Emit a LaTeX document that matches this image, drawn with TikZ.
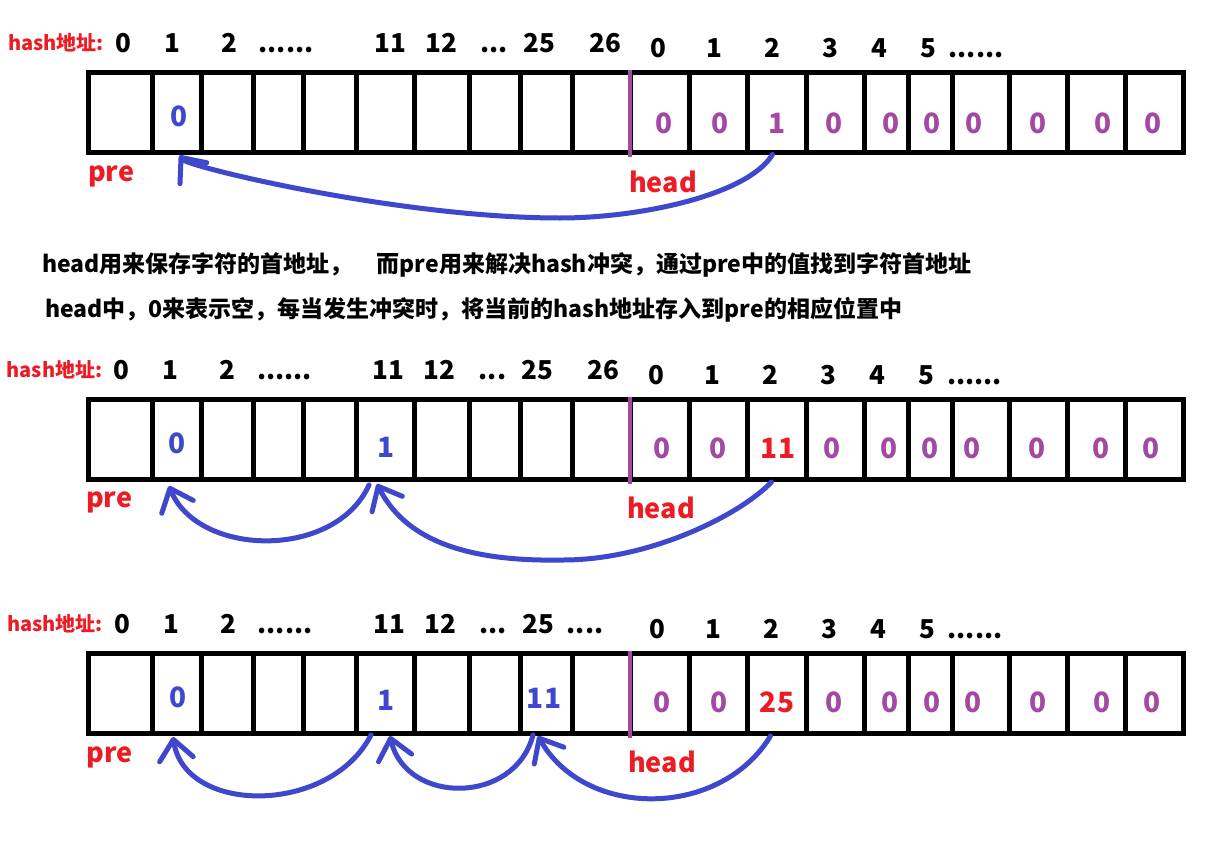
\documentclass[tikz,border=0pt]{standalone}
\usepackage{fontspec}
\setmainfont{Noto Sans CJK SC}
\usetikzlibrary{arrows.meta,calc}
\definecolor{pred}{HTML}{ED1C24}
\definecolor{pblue}{HTML}{3F48CC}
\definecolor{ppurple}{HTML}{A349A4}
\newcommand\dsix{......}
\newcommand\dthree{...}
\newcommand\dfour{....}
\tikzset{
 cell/.style={draw=black,line width=5pt,minimum height=80pt,inner sep=0pt,outer sep=0pt,anchor=north west},
 sepline/.style={draw=ppurple,line width=4pt},
 idx/.style={font=\fontsize{26}{28}\selectfont\bfseries,anchor=base,inner sep=0pt},
 hashlab/.style={font=\fontsize{20}{24}\selectfont\bfseries,text=pred,anchor=base west,inner sep=0pt},
 val/.style={font=\fontsize{28}{30}\selectfont\bfseries,anchor=base,inner sep=0pt},
 pv/.style={val,text=ppurple},
 bv/.style={val,text=pblue},
 rv/.style={val,text=pred},
 tag/.style={font=\fontsize{27}{30}\selectfont\bfseries,text=pred,anchor=base west,inner sep=0pt},
 note/.style={font=\fontsize{23}{26}\selectfont\bfseries,anchor=base west,inner sep=0pt},
 link/.style={draw=pblue,line width=5pt,line cap=round,-{Straight Barb[length=20pt,width=34pt,round]}},
}
\begin{document}
\begin{tikzpicture}[x=1pt,y=-1pt]
\useasboundingbox[fill=white] (0,0) rectangle (1214,840);
% cells
\foreach \rw/\tp in {1/72.5,2/399,3/653}{
  \foreach \xa/\xb [count=\ci from 0] in {88/152,152/201,201/253,253/303,303/356,356/414,414/469,469/520,520/572,572/630,630/689,689/747,747/806,806/864,864/908,908/952,952/1009,1009/1067,1067/1125,1125/1183}{
    \node[cell,minimum width={(\xb-\xa)*1pt}] (r\rw c\ci) at (\xa,\tp) {};
  }
  \draw[sepline] ($(r\rw c10.north west)+(0,-2.5)$) -- ($(r\rw c10.south west)+(0,4.5)$);
}
% index labels
\foreach \dy/\dx/\rw in {0/0/1,326/-1.5/2,580/-1/3}{
  \node[hashlab] (h\rw) at (8+\dx,51+\dy) {hash地址:};
  \foreach \x/\s [count=\k] in {123/0,172/1,229/2,286/\dsix,390/11,441/12,494/\dthree,539/25}
    \node[idx] (la\rw-\k) at (\x+\dx,53+\dy) {\s};
  \foreach \x/\s [count=\k] in {658/0,714/1,772/2,830/3,879/4,928/5,976/\dsix}
    \node[idx] (lb\rw-\k) at (\x+\dx,58+\dy) {\s};
}
\node[idx] (la1-9) at (605,53) {26};
\node[idx] (la2-9) at (603.5,379) {26};
\node[idx] (la3-9) at (585,633) {\dfour};
% values row 1
\node[bv] (v1a) at (179,127) {0};
\foreach \x/\s/\st [count=\k] in {664/0/pv,720/0/pv,777/1/pv,834/0/pv,891/0/pv,932/0/pv,974/0/pv,1038/0/pv,1103/0/pv,1153/0/pv}
  \node[\st] (hv1-\k) at (\x,133) {\s};
% values row 2
\node[bv] (v2a) at (177,453) {0};
\node[bv] (v2b) at (386,457) {1};
\foreach \x/\s/\st [count=\k] in {662/0/pv,718/0/pv,778/11/rv,832/0/pv,889/0/pv,930/0/pv,972/0/pv,1037/0/pv,1101/0/pv,1151/0/pv}
  \node[\st] (hv2-\k) at (\x,458) {\s};
% values row 3
\node[bv] (v3a) at (178,707) {0};
\node[bv] (v3b) at (386,710) {1};
\node[bv] (v3c) at (544,708) {11};
\foreach \x/\s/\st [count=\k] in {662/0/pv,719/0/pv,777/25/rv,834/0/pv,890/0/pv,932/0/pv,973/0/pv,1038/0/pv,1102/0/pv,1152/0/pv}
  \node[\st] (hv3-\k) at (\x,712) {\s};
% tags
\node[tag] (pre1) at (88,181) {pre};
\node[tag] (head1) at (629,192) {head};
\node[tag] (pre2) at (86,507) {pre};
\node[tag] (head2) at (627,518) {head};
\node[tag] (pre3) at (86.5,762) {pre};
\node[tag] (head3) at (628,772) {head};
% notes
\node[note] (n1) at (42,272) {head用来保存字符的首地址，\hspace{24pt}而pre用来解决hash冲突，通过pre中的值找到字符首地址};
\node[note] (n2) at (45,317) {head中，0来表示空，每当发生冲突时，将当前的hash地址存入到pre的相应位置中};
% links
\draw[link] ($(r1c12.south)+(-4,2)$) .. controls (748,195) and (640,218) .. (560,218) .. controls (400,218) and (188.5,167) .. ($(r1c1.south)+(3,3)$);
\draw[link] ($(r2c12.south)+(-5,3)$) .. controls (740,515) and (650,560) .. (563,560) .. controls (460,562) and (404,537) .. ($(r2c5.south)+(-8,5)$);
\draw[link] ($(r2c5.south)+(-16,6)$) .. controls (335,560) and (198,557) .. ($(r2c1.south)+(-7.5,7)$);
\draw[link] ($(r3c5.south)+(-14,2)$) .. controls (330,815) and (185,815) .. ($(r3c1.south)+(-3.5,4)$);
\draw[link] ($(r3c8.south)+(-13,2)$) .. controls (515,805) and (406,805) .. ($(r3c5.south)+(5,3)$);
\draw[link] ($(r3c12.south)+(-6,3)$) .. controls (720,819) and (585,819) .. ($(r3c8.south)+(-8,3)$);
\end{tikzpicture}
\end{document}
